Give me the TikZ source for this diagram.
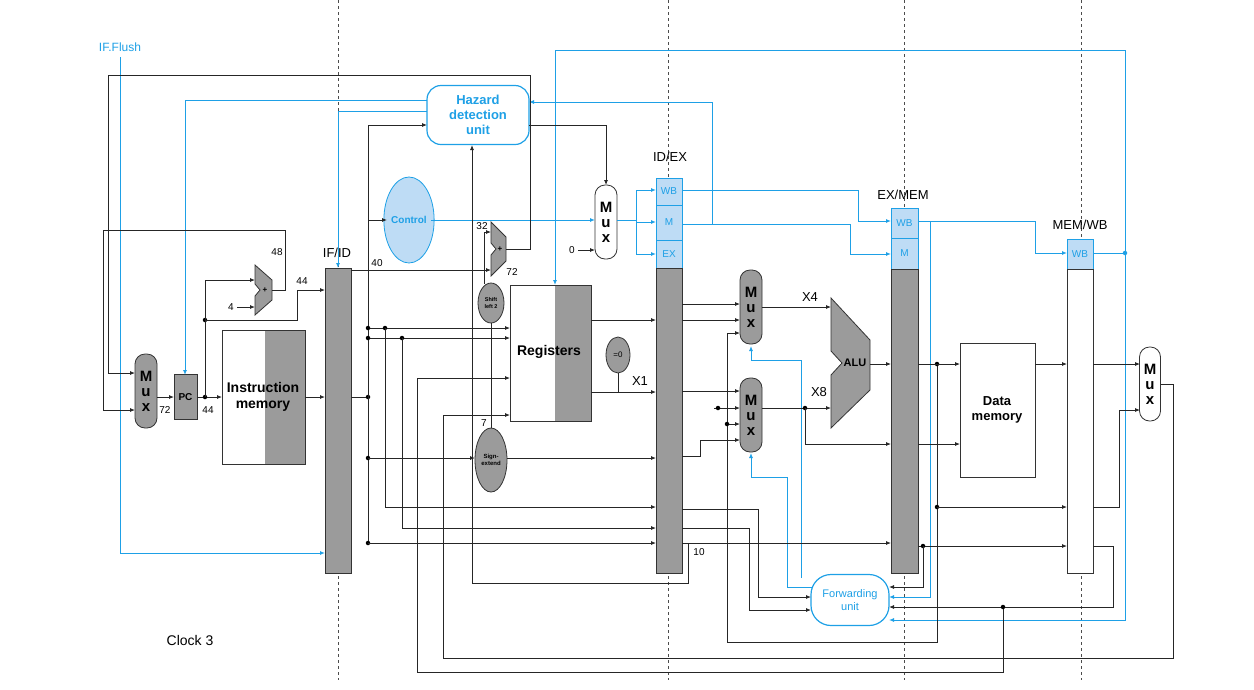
\documentclass[tikz,border=0pt]{standalone}
\usepackage{fontspec}\setmainfont{Liberation Sans}
\usetikzlibrary{arrows.meta,shapes.geometric}
\definecolor{cb}{RGB}{30,160,230}
\definecolor{gr}{RGB}{155,155,155}
\definecolor{lb}{RGB}{190,220,245}
\begin{document}
\begin{tikzpicture}[x=1pt,y=-1pt,
 w/.style={line width=0.8pt,black!85},
 a/.style={w,-{Latex[length=5pt,width=4pt]}},
 bw/.style={line width=1pt,cb},
 ba/.style={bw,-{Latex[length=5pt,width=4pt]}},
 dot/.style={circle,fill=black,inner sep=0,minimum size=4.5pt},
 bdot/.style={circle,fill=cb,inner sep=0,minimum size=4.5pt},
 box/.style={draw=black!80,line width=0.8pt},
 lab/.style={font=\fontsize{10}{12}\selectfont,inner sep=1pt},
 big/.style={font=\fontsize{13}{15}\selectfont,inner sep=1pt},
 mux/.style={rectangle,rounded corners=10pt,draw=black!80,line width=0.8pt,minimum width=22pt,minimum height=74pt,inner sep=0,font=\bfseries\fontsize{15}{15}\selectfont,align=center},
 ctl/.style={fill=lb,draw=cb,line width=0.6pt,text=cb,font=\fontsize{10}{12}\selectfont}]
\useasboundingbox (0,0) rectangle (1254,689);
% dashed stage lines
\foreach \x in {338,668,904,1081} \draw[dashed,black!70,line width=0.8pt] (\x,0) -- (\x,680);
% pipeline registers
\fill[gr] (325,268) rectangle (351,573); \draw[box] (325,268) rectangle (351,573);
\node[big] at (337,253) {IF/ID};
\draw[ctl] (656,178) rectangle (682,205) node[midway] {WB};
\draw[ctl] (656,205) rectangle (682,240) node[midway] {M};
\draw[ctl] (656,240) rectangle (682,268) node[midway] {EX};
\fill[gr] (656,268) rectangle (682,573); \draw[box] (656,268) rectangle (682,573);
\node[big] at (670,157) {ID/EX};
\draw[ctl] (891,208) rectangle (918,238) node[midway] {WB};
\draw[ctl] (891,238) rectangle (918,269) node[midway] {M};
\fill[gr] (891,269) rectangle (918,573); \draw[box] (891,269) rectangle (918,573);
\node[big] at (903,195) {EX/MEM};
\draw[ctl] (1067,239) rectangle (1093,269) node[midway] {WB};
\draw[box,fill=white] (1067,269) rectangle (1093,573);
\node[big] at (1080,225) {MEM/WB};
% units
\node[draw=cb,rounded corners=14pt,line width=1.2pt,minimum width=102pt,minimum height=59pt,text=cb,font=\bfseries\fontsize{13}{15}\selectfont,align=center,fill=white,inner sep=0] (haz) at (478,115) {Hazard\\detection\\unit};
\node[ellipse,fill=lb,draw=cb,line width=0.8pt,minimum width=44pt,minimum height=86pt,inner sep=0,text=cb,font=\bfseries\fontsize{10}{12}\selectfont] (ctrl) at (409,220) {Control};
\node[mux,fill=white] (cmux) at (606,222) {M\\u\\x};
\node[mux,fill=gr] (pcmux) at (146,391) {M\\u\\x};
\node[box,fill=gr,minimum width=23pt,minimum height=45pt,inner sep=0,font=\bfseries\fontsize{10}{12}\selectfont] (pc) at (185.5,397) {PC};
\fill[gr] (265,330) rectangle (305,464); \draw[box] (222,330) rectangle (305,464);
\node[font=\bfseries\fontsize{14}{16}\selectfont,align=center] (im) at (263,397) {Instruction\\memory};
\fill[gr] (555,285) rectangle (591,421); \draw[box] (510,285) rectangle (591,421);
\node[font=\bfseries\fontsize{14}{16}\selectfont] (regs) at (549,352) {Registers};
\draw[box,fill=gr] (255,265) -- (272,280) -- (272,300) -- (255,315) -- (255,296) -- (260,290) -- (255,284) -- cycle;
\node[font=\bfseries\fontsize{8}{8}\selectfont] at (265,290) {+};
\draw[box,fill=gr] (491,222) -- (506,237) -- (506,261) -- (491,276) -- (491,255) -- (496,249) -- (491,243) -- cycle;
\node[font=\bfseries\fontsize{8}{8}\selectfont] at (500,249) {+};
\node[ellipse,box,fill=gr,minimum width=26pt,minimum height=40pt,inner sep=0,align=center,font=\bfseries\fontsize{5.5}{7}\selectfont] (sl2) at (491,303) {Shift\\left 2};
\node[ellipse,box,fill=gr,minimum width=32pt,minimum height=64pt,inner sep=0,align=center,font=\bfseries\fontsize{6}{7}\selectfont] (se) at (491,460) {Sign-\\extend};
\node[ellipse,box,fill=gr,minimum width=24pt,minimum height=36pt,inner sep=0,font=\fontsize{8}{8}\selectfont] (eq0) at (618,355) {=0};
\node[mux,fill=gr] (muxa) at (751,307) {M\\u\\x};
\node[mux,fill=gr] (muxb) at (751,415) {M\\u\\x};
\draw[box,fill=gr] (831,298) -- (870,340) -- (870,390) -- (831,428) -- (831,375) -- (842,363) -- (831,351) -- cycle;
\node[font=\bfseries\fontsize{11}{12}\selectfont] (alu) at (855,363) {ALU};
\draw[box,fill=white] (960,343) rectangle (1035,477);
\node[font=\bfseries\fontsize{13}{15}\selectfont,align=center] (dm) at (997,410) {Data\\memory};
\node[mux,fill=white,minimum width=21pt] (wmux) at (1150,384) {M\\u\\x};
\node[draw=cb,rounded corners=20pt,line width=1.2pt,minimum width=78pt,minimum height=51pt,text=cb,font=\fontsize{11}{13}\selectfont,align=center,fill=white,inner sep=0] (fwd) at (850,600) {Forwarding\\unit};
\node[font=\fontsize{14}{16}\selectfont] at (190,640) {Clock 3};
% ---- blue wires
\node[text=cb,font=\fontsize{12}{14}\selectfont] at (120,47) {IF.Flush};
\draw[ba] (120,57) -- (120,553) -- (325,553);
\draw[ba] (427,100) -- (185,100) -- (185,375);
\draw[ba] (427,111) -- (338,111) -- (338,268);
\draw[ba] (431,220) -- (595,220);
\draw[bw] (617,220) -- (636,220); \draw[bw] (636,190) -- (636,254);
\draw[ba] (636,190) -- (656,190); \draw[ba] (636,222) -- (656,222); \draw[ba] (636,254) -- (656,254);
\draw[ba] (682,190) -- (858,190) -- (858,221) -- (891,221);
\draw[ba] (682,224) -- (850,224) -- (850,254) -- (891,254);
\draw[ba] (712,224) -- (712,102) -- (529,102);
\draw[ba] (918,221) -- (1035,221) -- (1035,253) -- (1067,253);
\draw[ba] (930,221) -- (930,597) -- (889,597);
\draw[bw] (1093,253) -- (1125,253); \node[bdot] at (1125,253) {};
\draw[ba] (1125,50) -- (1125,620) -- (889,620);
\draw[ba] (1125,50) -- (555,50) -- (555,285);
\draw[ba] (801,578) -- (801,360) -- (751,360) -- (751,346);
\draw[ba] (813,587) -- (787,587) -- (787,477) -- (751,477) -- (751,453);
% ---- black wires IF
\draw[a] (506,249) -- (530,249) -- (530,75) -- (108,75) -- (108,373) -- (135,373);
\draw[a] (272,290) -- (285,290) -- (285,230) -- (103,230) -- (103,410) -- (135,410);
\node[lab] at (277,252) {48};
\draw[a] (157,397) -- (174,397); \node[lab] at (165,410) {72};
\draw[a] (197,397) -- (222,397); \node[lab] at (208,410) {44};
\node[dot] at (205,397) {}; \node[dot] at (205,320) {};
\draw[a] (205,397) -- (205,280) -- (255,280);
\draw[a] (205,320) -- (297,320) -- (297,290) -- (325,290); \node[lab] at (302,281) {44};
\node[lab] at (231,307) {4}; \draw[a] (237,307) -- (255,307);
\draw[a] (305,397) -- (325,397);
% ID
\draw[w] (351,397) -- (368,397); \node[dot] at (368,397) {};
\draw[a] (368,543) -- (368,125) -- (427,125);
\draw[a] (368,220) -- (387,220);
\draw[a] (368,328) -- (510,328); \draw[a] (368,338) -- (510,338);
\foreach \p in {(368,328),(368,338),(385,328),(402,338),(368,458),(368,543)} \node[dot] at \p {};
\draw[a] (368,458) -- (475,458);
\draw[a] (368,543) -- (656,543);
\draw[a] (351,270) -- (491,270); \node[lab] at (377,263) {40};
\node[lab] at (482,226) {32}; \node[lab] at (512,272) {72};
\draw[a] (484,284) -- (484,232) -- (491,232);
\draw[w] (491,428) -- (491,323); \node[lab] at (484,423) {7};
\draw[a] (385,328) -- (385,507) -- (656,507);
\draw[a] (402,338) -- (402,528) -- (656,528);
\draw[a] (688,543) -- (688,583) -- (472,583) -- (472,145); \node[lab] at (699,552) {10};
\draw[a] (1003,607) -- (1003,672) -- (417,672) -- (417,378) -- (510,378);
\draw[a] (1161,384) -- (1173,384) -- (1173,658) -- (443,658) -- (443,415) -- (510,415);
\draw[a] (507,458) -- (656,458);
\draw[a] (591,320) -- (656,320);
\draw[a] (591,392) -- (656,392); \draw[w] (618,373) -- (618,392); \node[lab,font=\fontsize{13}{14}\selectfont] at (640,381) {X1};
\draw[a] (529,125) -- (606,125) -- (606,185);
\node[lab] at (572,250) {0}; \draw[a] (578,250) -- (595,250);
% EX
\draw[a] (682,304) -- (740,304); \draw[a] (682,320) -- (740,320);
\draw[a] (727,333) -- (740,333);
\draw[w] (727,333) -- (727,642) -- (937,642) -- (937,364);
\node[dot] at (937,364) {}; \node[dot] at (937,507) {};
\draw[a] (762,307) -- (831,307); \node[lab,font=\fontsize{13}{14}\selectfont] at (810,297) {X4};
\draw[a] (870,364) -- (891,364);
\draw[a] (682,391) -- (740,391);
\draw[a] (714,408) -- (740,408); \node[dot] at (718,408) {};
\draw[a] (727,424) -- (740,424); \node[dot] at (727,424) {};
\draw[a] (682,456) -- (700,456) -- (700,440) -- (740,440);
\draw[a] (762,408) -- (831,408); \node[dot] at (805,408) {};
\node[lab,font=\fontsize{13}{14}\selectfont] at (819,392) {X8};
\draw[a] (805,408) -- (805,444) -- (891,444);
\draw[a] (682,543) -- (891,543);
\draw[a] (682,509) -- (758,509) -- (758,597) -- (811,597);
\draw[a] (682,528) -- (749,528) -- (749,610) -- (811,610);
% MEM / WB
\draw[a] (918,364) -- (960,364); \draw[a] (918,444) -- (960,444);
\draw[a] (1035,364) -- (1067,364);
\draw[a] (1093,364) -- (1140,364);
\draw[a] (937,507) -- (1067,507);
\draw[a] (1093,507) -- (1119,507) -- (1119,410) -- (1140,410);
\draw[a] (918,546) -- (1067,546); \node[dot] at (923,546) {};
\draw[a] (923,546) -- (923,587) -- (889,587);
\draw[a] (1093,546) -- (1113,546) -- (1113,607) -- (889,607); \node[dot] at (1003,607) {};
\end{tikzpicture}
\end{document}
